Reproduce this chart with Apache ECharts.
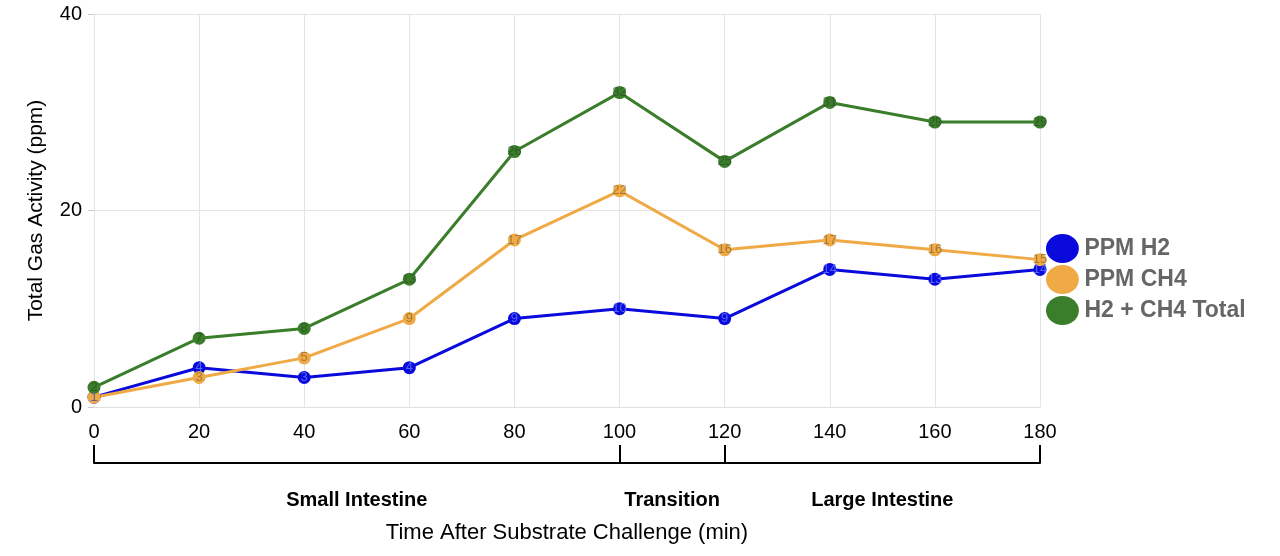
<!DOCTYPE html>
<html>
<head>
<meta charset="utf-8">
<script src="https://cdn.jsdelivr.net/npm/echarts@6/dist/echarts.min.js"></script>
<style>html,body{margin:0;padding:0;background:#fff}#c{width:1280px;height:556px}</style>
</head>
<body>
<div id="c"></div>
<script>
const times = [0, 20, 40, 60, 80, 100, 120, 140, 160, 180];
const h2 = [1, 4, 3, 4, 9, 10, 9, 14, 13, 14];
const ch4 = [1, 3, 5, 9, 17, 22, 16, 17, 16, 15];
const total = [2, 7, 8, 13, 26, 32, 25, 31, 29, 29];
const regionBounds = [0, 100, 120, 180];
const regionCenters = [50, 110, 150];
const regionNames = ['Small Intestine', 'Transition', 'Large Intestine'];
const yTicks = [0, 20, 40];

const FONT = 'Liberation Sans, Arial, Helvetica, sans-serif';
const chart = echarts.init(document.getElementById('c'));
const pairs = arr => arr.map((v, i) => [times[i], v]);
const ellipse = 'path://M0 15A17 15 0 1 0 34 15A17 15 0 1 0 0 15Z';

function mk(name, data, color, labelColor) {
  return {
    name, type: 'line', data: pairs(data), xAxisIndex: 0,
    symbol: 'circle', symbolSize: 13,
    lineStyle: { color, width: 3 },
    itemStyle: { color },
    label: { show: true, position: 'inside', fontSize: 13, fontFamily: FONT,
             color: labelColor },
    z: 3
  };
}

chart.setOption({
  animation: false,
  textStyle: { fontFamily: FONT },
  grid: { left: 94, right: 240, top: 14, bottom: 149, containLabel: false },
  legend: {
    orient: 'vertical', left: 1041, top: 229, itemGap: 2,
    itemWidth: 34, itemHeight: 29, icon: ellipse,
    textStyle: { fontSize: 23, fontWeight: 'bold', color: '#666', fontFamily: FONT },
    data: ['PPM H2', 'PPM CH4', 'H2 + CH4 Total']
  },
  xAxis: [{
    type: 'value', min: 0, max: 180, interval: 20,
    axisLine: { show: true, lineStyle: { color: '#e0e0e0' } },
    axisTick: { show: false },
    splitLine: { show: true, lineStyle: { color: '#e4e4e4' } },
    axisLabel: { fontSize: 20, color: '#000', margin: 15, fontFamily: FONT }
  }, {
    type: 'value', min: 0, max: 180, position: 'bottom', offset: 56,
    axisLine: { show: true, lineStyle: { color: '#000', width: 2 } },
    axisTick: { show: true, inside: true, length: 18, customValues: regionBounds,
                lineStyle: { color: '#000', width: 2 } },
    splitLine: { show: false },
    axisLabel: { show: true, customValues: regionCenters, margin: 27,
                 fontSize: 20, fontWeight: 'bold', color: '#000', fontFamily: FONT,
                 formatter: v => regionNames[regionCenters.indexOf(v)] },
    name: 'Time After Substrate Challenge (min)', nameLocation: 'middle', nameGap: 59,
    nameTextStyle: { fontSize: 22, color: '#000', fontFamily: FONT }
  }],
  yAxis: {
    type: 'value', min: 0, max: 40, interval: 20,
    axisLine: { show: false },
    axisTick: { show: true, length: 6, lineStyle: { color: '#ccc' } },
    splitLine: { show: true, lineStyle: { color: '#e4e4e4' } },
    axisLabel: { fontSize: 20, color: '#000', margin: 12, fontFamily: FONT,
                 formatter: v => yTicks.includes(v) ? String(v) : '' },
    name: 'Total Gas Activity (ppm)', nameLocation: 'middle', nameGap: 47,
    nameTextStyle: { fontSize: 21, color: '#000', fontFamily: FONT }
  },
  series: [
    mk('PPM H2', h2, '#0a0adc', 'rgba(90,110,255,0.9)'),
    mk('PPM CH4', ch4, '#f0aa45', 'rgba(110,90,50,0.6)'),
    mk('H2 + CH4 Total', total, '#3a7d2a', 'rgba(40,70,30,0.6)')
  ]
});
</script>
</body>
</html>
